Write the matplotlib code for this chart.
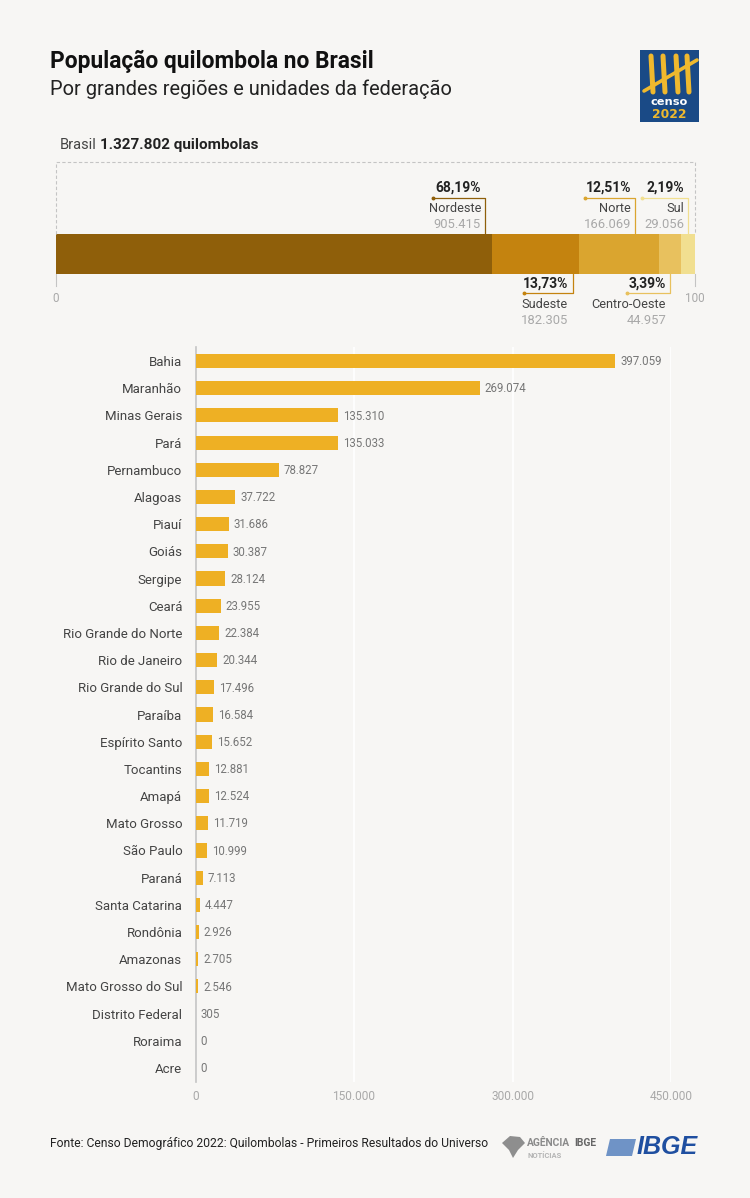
#!/usr/bin/env python3
import matplotlib
matplotlib.use("Agg")
import matplotlib.pyplot as plt
from matplotlib.patches import Rectangle, Polygon

W, H = 750, 1198
BG = "#F7F6F4"
DARK = "#222222"
LABEL = "#444444"
GREY = "#A9A9A9"
FONT = ["Roboto", "DejaVu Sans"]

regions = ["Nordeste", "Sudeste", "Norte", "Centro-Oeste", "Sul"]
region_pct = [68.19, 13.73, 12.51, 3.39, 2.19]
region_pct_labels = ["68,19%", "13,73%", "12,51%", "3,39%", "2,19%"]
region_counts = ["905.415", "182.305", "166.069", "44.957", "29.056"]
region_colors = ["#8F5F0A", "#C4830F", "#DAA52F", "#E8C15E", "#F1DF90"]

states = ["Bahia", "Maranhão", "Minas Gerais", "Pará", "Pernambuco", "Alagoas", "Piauí",
          "Goiás", "Sergipe", "Ceará", "Rio Grande do Norte", "Rio de Janeiro",
          "Rio Grande do Sul", "Paraíba", "Espírito Santo", "Tocantins", "Amapá",
          "Mato Grosso", "São Paulo", "Paraná", "Santa Catarina", "Rondônia", "Amazonas",
          "Mato Grosso do Sul", "Distrito Federal", "Roraima", "Acre"]
state_values = [397059, 269074, 135310, 135033, 78827, 37722, 31686, 30387, 28124, 23955,
                22384, 20344, 17496, 16584, 15652, 12881, 12524, 11719, 10999, 7113,
                4447, 2926, 2705, 2546, 305, 0, 0]
x_ticks = [0, 150000, 300000, 450000]


def fmt(v):
    return f"{v:,}".replace(",", ".")


def px_axes(fig, left, top, right, bottom):
    return fig.add_axes([left / W, 1 - bottom / H, (right - left) / W, (bottom - top) / H])


fig = plt.figure(figsize=(W / 100, H / 100), dpi=100, facecolor=BG)

# overlay in pixel coordinates for titles, callouts and logos
ov = fig.add_axes([0, 0, 1, 1], zorder=5)
ov.set_xlim(0, W)
ov.set_ylim(H, 0)
ov.axis("off")


def txt(x, y, s, size, color=DARK, ha="left", weight="normal"):
    ov.text(x, y, s, fontsize=size, color=color, ha=ha, va="center", weight=weight, family=FONT)


txt(50, 61, "População quilombola no Brasil", 16.4, "#111111", weight="bold")
txt(50, 89, "Por grandes regiões e unidades da federação", 14.4, "#222222")
txt(60, 145, "Brasil", 10.5, LABEL)
txt(100, 145, "1.327.802 quilombolas", 11, DARK, weight="bold")

# stacked region bar
ax_top = px_axes(fig, 55.5, 234, 695, 274)
left = 0
for pct, col in zip(region_pct, region_colors):
    ax_top.barh(0, pct, left=left, height=1, color=col, linewidth=0)
    left += pct
ax_top.set_xlim(0, 100)
ax_top.set_ylim(-0.5, 0.5)
ax_top.axis("off")

ov.plot([55.5, 55.5, 695, 695], [234, 162, 162, 234], color="#C4C4C4", lw=0.8, ls=(0, (3, 2)))
ov.plot([55.5, 55.5], [274, 286], color="#C4C4C4", lw=0.8)
ov.plot([695, 695], [274, 286], color="#C4C4C4", lw=0.8)
txt(55.5, 299, "0", 8.5, GREY, ha="center")
txt(695, 299, "100", 8.5, GREY, ha="center")

# callouts: text right edge, bracket left end, bracket right end, above the bar or not
callouts = {
    "Nordeste": (481, 433, 485, True),
    "Norte": (631, 585, 635, True),
    "Sul": (684, 642, 688, True),
    "Sudeste": (568, 524, 573, False),
    "Centro-Oeste": (666, 627, 670, False),
}
for name, pct, count, col in zip(regions, region_pct_labels, region_counts, region_colors):
    xr, x0, x1, above = callouts[name]
    if above:
        y_pct, y_name, y_count, y_line, y_end = 188, 209, 225, 198, 234
    else:
        y_pct, y_name, y_count, y_line, y_end = 284, 304, 320, 293, 274
    txt(xr, y_pct, pct, 10, DARK, ha="right", weight="bold")
    txt(xr, y_name, name, 9.2, LABEL, ha="right")
    txt(xr, y_count, count, 9.4, GREY, ha="right")
    ov.plot([x0, x1, x1], [y_line, y_line, y_end], color=col, lw=0.9)
    ov.plot([x0], [y_line], marker="o", ms=1.8, color=col)

# state bars
row = 27.19
ax = px_axes(fig, 195.5, 361 - row / 2, 671, 1068 + row / 2)
ax.set_facecolor("none")
y_pos = list(range(len(states)))
ax.barh(y_pos, state_values, height=0.52, color="#EEB024", linewidth=0, zorder=3)
ax.set_xlim(0, 450000)
ax.set_ylim(len(states) - 0.5, -0.5)
for s in ax.spines.values():
    s.set_visible(False)
ax.spines["left"].set_visible(True)
ax.spines["left"].set_color("#C4C4C4")
ax.spines["left"].set_linewidth(1.2)
ax.set_xticks(x_ticks)
ax.set_xticklabels([fmt(t) for t in x_ticks], fontsize=8.6, color=GREY, family=FONT)
ax.tick_params(axis="x", length=0, pad=6)
ax.set_yticks(y_pos)
ax.set_yticklabels(states, fontsize=9.5, color=LABEL, family=FONT)
ax.tick_params(axis="y", length=0, pad=9.5)
ax.grid(axis="x", color="white", lw=1.2, zorder=0)
ax.set_axisbelow(True)
for y, v in zip(y_pos, state_values):
    ax.annotate(fmt(v), (v, y), xytext=(3.6, -0.5), textcoords="offset points", va="center",
                fontsize=8.3, color="#777777", family=FONT)

txt(50, 1143, "Fonte: Censo Demográfico 2022: Quilombolas - Primeiros Resultados do Universo", 8.75, "#222222")

# censo logo
ov.add_patch(Rectangle((640, 50), 59, 72, color="#1A4A86", lw=0, zorder=2))
for x in [652, 664, 677, 688]:
    ov.plot([x - 1, x + 1], [56, 92], color="#EFB92E", lw=3.6, solid_capstyle="round", zorder=3)
ov.plot([644, 697], [91, 60], color="#EFB92E", lw=2.6, solid_capstyle="round", zorder=4)
ov.text(669.5, 102, "censo", fontsize=8.2, color="white", ha="center", va="center", weight="bold",
        family="DejaVu Sans", zorder=5)
ov.text(669.5, 114.5, "2022", fontsize=8.8, color="#EFB92E", ha="center", va="center", weight="bold",
        family="DejaVu Sans", zorder=5)

# agencia / ibge logos
ov.add_patch(Polygon([(502, 1143), (510, 1136), (520, 1137), (525, 1143), (518, 1150), (513, 1158),
                      (509, 1150)], color="#8E8E8E", lw=0))
txt(527, 1143, "AGÊNCIA", 7.4, "#8A8A8A", weight="bold")
txt(574, 1143, "IBGE", 7.4, "#666666", weight="bold")
txt(527, 1155, "NOTÍCIAS", 5.5, "#B5B5B5", weight="bold")
ov.add_patch(Polygon([(610, 1139), (636, 1139), (632, 1156), (606, 1156)], color="#6F93C6", lw=0))
ov.text(637, 1147, "IBGE", fontsize=18, color="#1F4FA0", va="center", weight="bold", style="italic",
        family="Liberation Sans")

fig.savefig("out.png", dpi=100, facecolor=BG)
